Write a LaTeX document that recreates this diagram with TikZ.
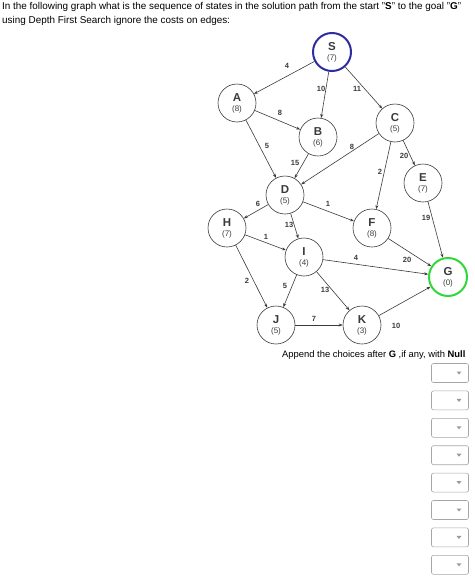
\documentclass[tikz,border=0pt]{standalone}
\usepackage{fontspec}
\setmainfont{Liberation Sans}
\usetikzlibrary{arrows.meta,calc}
\definecolor{edgec}{HTML}{3A3A3A}
\definecolor{sblue}{HTML}{2E2E9E}
\definecolor{ggreen}{HTML}{2FD83A}
\begin{document}
\begin{tikzpicture}[x=1pt,y=-1pt,
  st/.style={circle,draw=edgec,line width=0.6pt,minimum size=38pt,inner sep=0pt,align=center,font=\fontsize{11.5}{12}\selectfont\bfseries,text=edgec},
  ed/.style={draw=edgec,line width=0.6pt,-{Stealth[length=4pt,width=3pt]}},
  lab/.style={font=\fontsize{7.5}{8}\selectfont\bfseries,text=edgec,inner sep=0pt},
  dd/.style={draw=gray!70,rounded corners=2pt,line width=0.6pt,minimum width=37pt,minimum height=19pt,inner sep=0pt}]
\useasboundingbox (0,0) rectangle (474,581);
\node[anchor=west,font=\fontsize{9.9}{13.5}\selectfont,align=left,inner sep=0pt] (title) at (2,14)
  {In the following graph what is the sequence of states in the solution path from the start "\textbf{S}" to the goal "\textbf{G}"\\using Depth First Search ignore the costs on edges:};
\node[st,draw=sblue,line width=2pt] (S) at (332,52) {S\\[-2pt]{\fontsize{8}{8}\selectfont\mdseries(7)}};
\node[st] (A) at (237,103) {A\\[-2pt]{\fontsize{8}{8}\selectfont\mdseries(8)}};
\node[st] (B) at (318,137) {B\\[-2pt]{\fontsize{8}{8}\selectfont\mdseries(6)}};
\node[st] (C) at (395,123) {C\\[-2pt]{\fontsize{8}{8}\selectfont\mdseries(5)}};
\node[st] (D) at (285,195) {D\\[-2pt]{\fontsize{8}{8}\selectfont\mdseries(5)}};
\node[st] (E) at (423,183) {E\\[-2pt]{\fontsize{8}{8}\selectfont\mdseries(7)}};
\node[st] (H) at (227,228) {H\\[-2pt]{\fontsize{8}{8}\selectfont\mdseries(7)}};
\node[st] (F) at (372,228) {F\\[-2pt]{\fontsize{8}{8}\selectfont\mdseries(8)}};
\node[st] (I) at (304,257) {I\\[-2pt]{\fontsize{8}{8}\selectfont\mdseries(4)}};
\node[st,draw=ggreen,line width=2pt] (G) at (448,277) {G\\[-2pt]{\fontsize{8}{8}\selectfont\mdseries(0)}};
\node[st] (J) at (276,325) {J\\[-2pt]{\fontsize{8}{8}\selectfont\mdseries(5)}};
\node[st] (K) at (362,325) {K\\[-2pt]{\fontsize{8}{8}\selectfont\mdseries(3)}};
\draw[ed] (S) -- (A);
\draw[ed] (S) -- (B);
\draw[ed] (S) -- (C);
\draw[ed] (A) -- (B);
\draw[ed] (A) -- (D);
\draw[ed] (B) -- (D);
\draw[ed] (C) -- (D);
\draw[ed] (C) -- (F);
\draw[ed] (C) -- (E);
\draw[ed] (D) -- (H);
\draw[ed] (D) -- (I);
\draw[ed] (D) -- (F);
\draw[ed] (E) -- (G);
\draw[ed] (H) -- (I);
\draw[ed] (H) -- (J);
\draw[ed] (F) -- (G);
\draw[ed] (I) -- (G);
\draw[ed] (I) -- (J);
\draw[ed] (I) -- (K);
\draw[ed] (J) -- (K);
\draw[ed] (K) -- (G);
\node[lab] (l1) at (287,66) {4};
\node[lab] (l2) at (321,89) {10};
\node[lab] (l3) at (357,89) {11};
\node[lab] (l4) at (280,113) {8};
\node[lab] (l5) at (267,146) {5};
\node[lab] (l6) at (295,163) {15};
\node[lab] (l7) at (352,147) {8};
\node[lab] (l8) at (380,172) {2};
\node[lab] (l9) at (404,156) {20};
\node[lab] (l10) at (258,204) {6};
\node[lab] (l11) at (289,225) {13};
\node[lab] (l12) at (328,204) {1};
\node[lab] (l13) at (426,218) {19};
\node[lab] (l14) at (266,237) {1};
\node[lab] (l15) at (407,260) {20};
\node[lab] (l16) at (356,258) {4};
\node[lab] (l17) at (247,281) {2};
\node[lab] (l18) at (285,286) {5};
\node[lab] (l19) at (325,290) {13};
\node[lab] (l20) at (396,326) {10};
\node[lab] (l21) at (314,319) {7};
\node[anchor=west,font=\fontsize{9.4}{12}\selectfont,inner sep=0pt] (app) at (282,355) {Append the choices after \textbf{G} ,if any, with \textbf{Null}};
\foreach \i in {0,...,7} {
  \node[dd] (box\i) at (450,{373+27.4*\i}) {};
  \fill[gray!80] ($(box\i.center)+(6.5,-1.5)$) -- ++(5,0) -- ++(-2.5,3) -- cycle;
}
\end{tikzpicture}
\end{document}
